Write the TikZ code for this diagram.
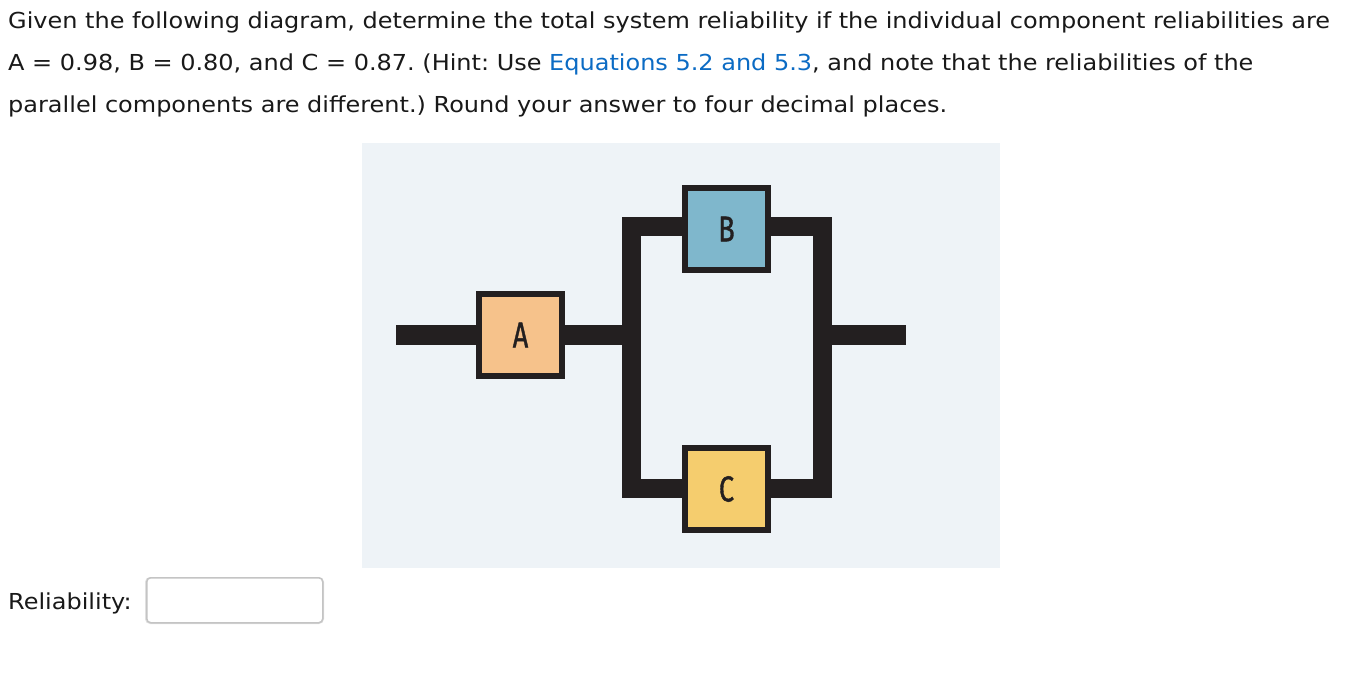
\documentclass[tikz,border=0pt]{standalone}
\usepackage{fontspec}
\setmainfont{DejaVu Sans}[FakeStretch=1.09]
\newfontfamily\labelfont{Fira Sans}[FakeBold=1.3]
\usepackage{graphicx}
\definecolor{panelbg}{HTML}{EEF3F7}
\definecolor{wirecol}{HTML}{231F20}
\definecolor{fillA}{HTML}{F6C28B}
\definecolor{fillB}{HTML}{7FB7CC}
\definecolor{fillC}{HTML}{F5CD6E}
\definecolor{linkblue}{HTML}{0B6BC4}
\definecolor{boxborder}{HTML}{C4C4C4}
\frenchspacing
\begin{document}
\begin{tikzpicture}[x=1pt,y=-1pt,
  txt/.style={anchor=base west, inner sep=0pt, font=\fontsize{22}{26}\selectfont, text=black!90},
  comp/.style={draw=wirecol, line width=6pt, minimum width=83pt, minimum height=82pt, inner sep=0pt,
    font=\labelfont\fontsize{36}{36}\selectfont, text=wirecol},
  wire/.style={draw=wirecol, line width=19pt, line join=miter},
  feed/.style={draw=wirecol, line width=20pt},
  answerbox/.style={draw=boxborder, line width=1.5pt, rounded corners=4pt, fill=white,
    minimum width=176pt, minimum height=45pt, inner sep=0pt}
]
\useasboundingbox (0,0) rectangle (1348,682);
\fill[white] (0,0) rectangle (1348,682);
% question text
\node[txt] (q1) at (8,29) {Given the following diagram, determine the total system reliability if the individual component reliabilities are};
\node[txt] (q2) at (8,71) {A = 0.98, B = 0.80, and C = 0.87. (Hint: Use \textcolor{linkblue}{Equations 5.2 and 5.3}, and note that the reliabilities of the};
\node[txt] (q3) at (8,113) {parallel components are different.) Round your answer to four decimal places.};
% panel
\fill[panelbg] (362,143) rectangle (1000,568);
% junction coordinates
\coordinate (in) at (396,335);
\coordinate (out) at (906,335);
\coordinate (TL) at (631,226);
\coordinate (BL) at (631,488.5);
\coordinate (TR) at (822.5,226);
\coordinate (BR) at (822.5,488.5);
\coordinate (JL) at (631,335);
\coordinate (JR) at (822.5,335);
% component boxes (placed first for names)
\node[comp, fill=fillA] (A) at (520.5,335) {\scalebox{0.75}[1]{A}};
\node[comp, fill=fillB] (B) at (726.5,229) {\scalebox{0.75}[1]{B}};
\node[comp, fill=fillC] (C) at (726.5,489) {\scalebox{0.75}[1]{C}};
% wires
\draw[feed] (in) -- (A.west);
\draw[feed] (A.east) -- (JL);
\draw[wire] (B.west |- TL) -- (TL) -- (BL) -- (C.west |- BL);
\draw[wire] (B.east |- TR) -- (TR) -- (BR) -- (C.east |- BR);
\draw[feed] (JR) -- (out);
% boxes again on top of wires
\node[comp, fill=fillA] at (A) {\scalebox{0.75}[1]{A}};
\node[comp, fill=fillB] at (B) {\scalebox{0.75}[1]{B}};
\node[comp, fill=fillC] at (C) {\scalebox{0.75}[1]{C}};
% answer
\node[txt] (rel) at (8,609) {Reliability:};
\fill[black!12, rounded corners=5pt] (145,577) rectangle (324,624);
\node[answerbox, anchor=north west] (ans) at (146,577) {};
\end{tikzpicture}
\end{document}
